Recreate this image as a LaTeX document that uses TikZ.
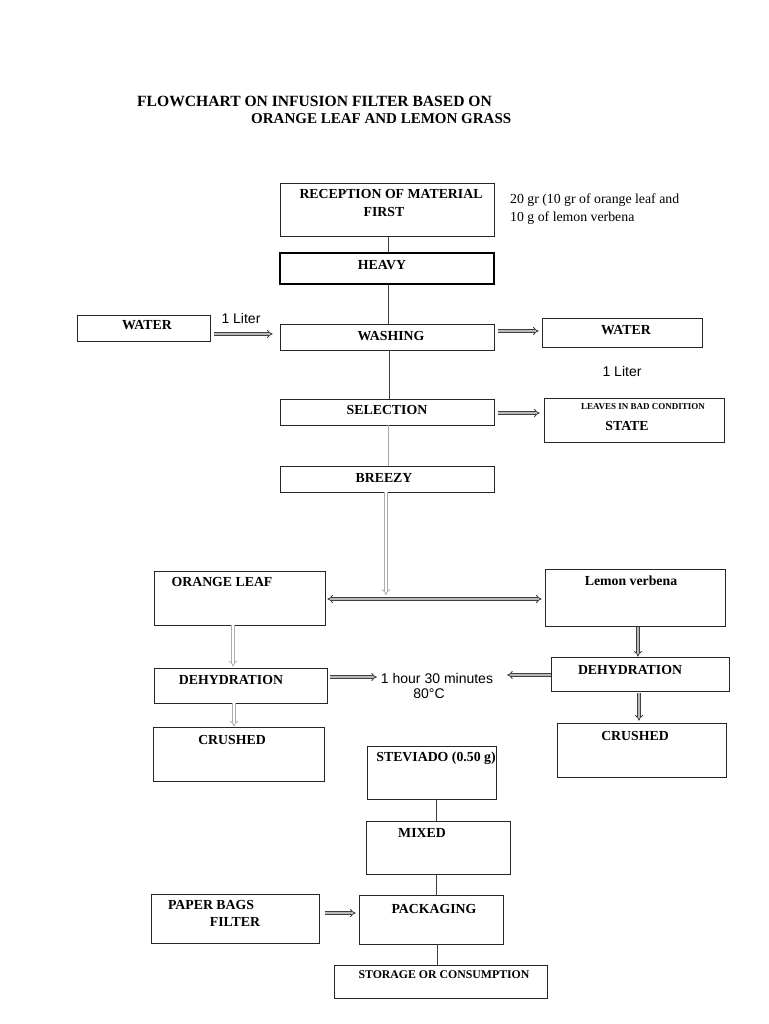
\documentclass[tikz,border=0pt]{standalone}
\usepackage{fontspec}
\setmainfont{Liberation Serif}
\newfontfamily\sansf{Liberation Sans}
\usetikzlibrary{arrows.meta}
\newcommand{\mybox}[6][]{\node[box,#1,minimum width={(#5-#3)*1pt},minimum height={(#6-#4)*1pt}] (#2) at ({(#3+#5)/2},{(#4+#6)/2}) {};}
\begin{document}
\begin{tikzpicture}[x=1pt,y=-1pt,
  box/.style={draw=black!85,line width=0.9pt,rectangle,inner sep=0pt},
  txt/.style={inner sep=0pt,font=\bfseries\fontsize{13.8}{16}\selectfont},
  small/.style={inner sep=0pt,font=\bfseries\fontsize{9}{11}\selectfont},
  plain/.style={inner sep=0pt,font=\fontsize{13.8}{16}\selectfont},
  sans/.style={inner sep=0pt,font=\sansf\fontsize{14}{16}\selectfont},
  ttl/.style={inner sep=0pt,font=\bfseries\fontsize{15.6}{18}\selectfont,anchor=west},
  conn/.style={draw=black!75,line width=0.9pt},
  thin/.style={draw=gray!70,line width=0.6pt},
  dbl/.style={draw=black!75,line width=0.9pt,double=gray!55,double distance=1.8pt,-{Implies}},
  dbltwo/.style={draw=black!75,line width=0.9pt,double=gray!55,double distance=1.8pt,{Implies}-{Implies}},
  hollow/.style={draw=gray!65,line width=0.8pt,double=white,double distance=2.2pt,-{Implies}}]
\useasboundingbox (0,0) rectangle (768,1024);
% title
\node[ttl] (t1) at (137,101) {FLOWCHART ON INFUSION FILTER BASED ON};
\node[ttl,font=\bfseries\fontsize{15}{18}\selectfont] (t2) at (251,119) {ORANGE LEAF AND LEMON GRASS};
% boxes
\mybox{rec}{280}{183}{494}{236}
\mybox[line width=1.4pt,draw=black]{heavy}{280}{253}{494}{284}
\mybox{wl}{77}{315}{210}{341}
\mybox{wash}{280}{324}{494}{350}
\mybox{wr}{542}{318}{702}{347}
\mybox{sel}{280}{399}{494}{425}
\mybox{leaves}{544}{398}{724}{442}
\mybox{breezy}{280}{466}{494}{492}
\mybox{orange}{154}{571}{325}{625}
\mybox{lemon}{545}{569}{725}{626}
\mybox{dehyL}{154}{668}{327}{703}
\mybox{dehyR}{551}{657}{729}{691}
\mybox{crushL}{153}{727}{324}{781}
\mybox{crushR}{557}{723}{726}{777}
\mybox{stev}{367}{746}{496}{799}
\mybox{mixed}{366}{821}{510}{874}
\mybox{paper}{151}{894}{319}{943}
\mybox{pack}{359}{895}{503}{944}
\mybox{stor}{334}{965}{547}{998}
% texts
\node[txt] (trec1) at (391,194) {RECEPTION OF MATERIAL};
\node[txt] (trec2) at (384,212) {FIRST};
\node[plain,anchor=west] (side1) at (510,200) {20 gr (10 gr of orange leaf and};
\node[plain,anchor=west] (side2) at (510,218) {10 g of lemon verbena};
\node[txt] (theavy) at (382,265) {HEAVY};
\node[txt] (twl) at (147,325) {WATER};
\node[sans] (lit1) at (241,318) {1 Liter};
\node[txt] (twash) at (391,336) {WASHING};
\node[txt] (twr) at (626,330) {WATER};
\node[sans] (lit2) at (622,371) {1 Liter};
\node[txt] (tsel) at (387,410) {SELECTION};
\node[small] (tleav1) at (643,407) {LEAVES IN BAD CONDITION};
\node[txt] (tleav2) at (627,426) {STATE};
\node[txt] (tbreezy) at (384,478) {BREEZY};
\node[txt] (torange) at (222,582) {ORANGE LEAF};
\node[txt] (tlemon) at (631,581) {Lemon verbena};
\node[txt] (tdehyL) at (231,680) {DEHYDRATION};
\node[sans] (hr) at (437,678) {1 hour 30 minutes};
\node[sans] (deg) at (429,694) {80°C};
\node[txt] (tdehyR) at (630,670) {DEHYDRATION};
\node[txt] (tcrushL) at (232,740) {CRUSHED};
\node[txt] (tcrushR) at (635,736) {CRUSHED};
\node[txt] (tstev) at (436,758) {STEVIADO (0.50 g)};
\node[txt] (tmixed) at (422,833) {MIXED};
\node[txt] (tpap1) at (211,905) {PAPER BAGS};
\node[txt] (tpap2) at (235,922) {FILTER};
\node[txt] (tpack) at (434,909) {PACKAGING};
\node[txt,font=\bfseries\fontsize{11.8}{14}\selectfont] (tstor) at (444,975) {STORAGE OR CONSUMPTION};
% connectors
\draw[conn] ([xshift=1pt]rec.south) -- ([xshift=1pt]heavy.north);
\draw[conn] ([xshift=1pt]heavy.south) -- ([xshift=1pt]wash.north);
\draw[conn] ([xshift=2pt]wash.south) -- ([xshift=2pt]sel.north);
\draw[thin] ([xshift=1pt]sel.south) -- ([xshift=1pt]breezy.north);
\draw[dbl] ([xshift=4pt,yshift=-6pt]wl.east) -- ([xshift=-7pt,yshift=3pt]wash.west);
\draw[dbl] ([xshift=4pt,yshift=6pt]wash.east) -- ([xshift=-3pt,yshift=1.5pt]wr.west);
\draw[dbl] ([xshift=4pt,yshift=-1pt]sel.east) -- ([xshift=-4pt,yshift=7pt]leaves.west);
\coordinate (mid) at (386,595);
\draw[hollow] ([xshift=-1pt]breezy.south) -- (mid);
\draw[dbltwo] ([xshift=2pt,yshift=-1pt]orange.east) -- ([xshift=-3pt,yshift=-1.5pt]lemon.west);
\draw[hollow] ([xshift=-6.5pt]orange.south) -- ([xshift=-7.5pt,yshift=1pt]dehyL.north);
\draw[dbl] ([xshift=3pt,yshift=8.5pt]dehyL.east) -- ([xshift=-4pt,yshift=1pt]hr.west);
\draw[dbl] ([yshift=-1pt]dehyR.west) -- ([xshift=14pt,yshift=3pt]hr.east);
\draw[dbl] ([xshift=3pt,yshift=-1pt]lemon.south) -- ([xshift=-2pt]dehyR.north);
\draw[hollow] ([xshift=-6.5pt]dehyL.south) -- ([xshift=-4.5pt]crushL.north);
\draw[dbl] ([xshift=-1pt,yshift=-2pt]dehyR.south) -- ([xshift=-2.5pt,yshift=2pt]crushR.north);
\draw[conn] ([xshift=4.5pt]stev.south) -- ([xshift=-2pt]mixed.north);
\draw[conn] ([xshift=-2pt]mixed.south) -- ([xshift=5pt]pack.north);
\draw[dbl] ([xshift=6pt,yshift=5.5pt]paper.east) -- ([xshift=-3pt,yshift=6.5pt]pack.west);
\draw[conn] ([xshift=6pt]pack.south) -- ([xshift=-3.5pt]stor.north);
\end{tikzpicture}
\end{document}
